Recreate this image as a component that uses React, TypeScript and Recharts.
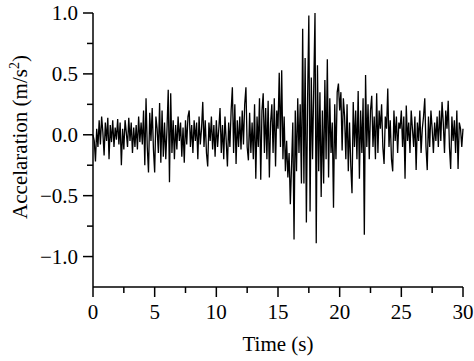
import { Line, LineChart, XAxis, YAxis } from 'recharts';

// sampled every 0.1 s
const SAMPLE_STEP = 0.1;

const accel0to5 = [
	0.0, -0.05, -0.22, 0.05, -0.1, 0.12, -0.08, 0.15, 0.02, -0.17,
	0.1, -0.05, 0.14, -0.2, 0.08, -0.06, 0.12, -0.1, 0.06, -0.04,
	0.13, -0.08, 0.1, -0.25, 0.05, -0.12, 0.12, 0.02, -0.1, 0.14,
	-0.05, 0.1, -0.15, 0.06, -0.1, 0.08, -0.12, 0.15, -0.06, 0.1,
	-0.08, 0.2, -0.25, 0.3, -0.1, -0.31, 0.18, -0.05, 0.22, -0.12,
];
const accel5to10 = [
	-0.31, 0.15, 0.05, -0.15, 0.26, -0.23, 0.2, -0.18, 0.1, -0.2,
	0.05, 0.37, -0.39, 0.34, -0.15, 0.12, -0.2, 0.08, -0.12, 0.15,
	-0.05, 0.1, -0.18, 0.06, -0.23, 0.12, -0.08, 0.15, 0.2, -0.1,
	0.08, -0.15, 0.12, -0.05, 0.1, -0.2, 0.15, -0.08, 0.05, 0.27,
	-0.1, 0.12, -0.15, -0.26, 0.1, -0.05, 0.15, -0.12, 0.08, -0.18,
];
const accel10to15 = [
	0.12, -0.1, 0.05, 0.22, -0.15, 0.08, -0.2, 0.15, -0.05, -0.26,
	0.1, -0.1, 0.2, 0.39, -0.15, 0.25, -0.24, 0.12, -0.1, 0.15,
	-0.12, 0.2, -0.08, 0.25, 0.39, -0.1, -0.21, 0.18, -0.15, 0.1,
	-0.2, 0.25, -0.36, 0.15, -0.1, 0.3, -0.37, 0.2, 0.34, -0.15,
	0.22, -0.2, 0.28, -0.35, 0.1, 0.25, -0.15, 0.3, -0.26, 0.2,
];
const accel15to20 = [
	0.05, 0.51, -0.1, 0.53, -0.2, 0.15, -0.3, -0.05, -0.35, -0.15,
	-0.57, -0.25, 0.1, -0.86, 0.2, -0.3, 0.3, -0.15, 0.25, -0.4,
	0.87, -0.4, 0.63, -0.72, 0.3, 0.98, -0.63, 0.47, -0.2, 0.4,
	1.0, -0.89, 0.57, -0.3, 0.35, -0.51, 0.2, -0.4, 0.45, -0.2,
	0.62, -0.35, 0.3, -0.15, 0.1, -0.6, 0.25, -0.2, 0.35, 0.42,
];
const accel20to25 = [
	0.2, 0.35, -0.13, 0.3, 0.15, -0.2, 0.25, -0.3, 0.1, -0.25,
	-0.48, 0.27, -0.1, 0.2, -0.2, 0.36, -0.36, 0.2, -0.15, 0.3,
	-0.82, 0.49, -0.1, 0.25, -0.2, 0.2, 0.32, -0.1, 0.15, -0.2,
	0.34, -0.15, 0.2, 0.05, 0.25, -0.1, -0.24, 0.15, 0.05, 0.38,
	-0.1, 0.12, -0.2, -0.3, 0.2, -0.05, 0.15, -0.15, 0.1, 0.05,
];
const accel25to30 = [
	0.2, -0.1, 0.15, -0.36, 0.24, -0.05, 0.1, -0.15, 0.2, 0.05,
	-0.1, 0.15, -0.29, 0.1, -0.05, 0.2, -0.15, 0.05, 0.15, 0.3,
	-0.1, -0.29, 0.15, -0.1, 0.2, 0.05, -0.15, 0.1, -0.05, 0.15,
	-0.1, 0.2, -0.05, 0.27, 0.1, -0.15, 0.2, 0.05, 0.28, -0.1,
	-0.28, 0.15, -0.05, 0.12, -0.15, 0.2, -0.28, 0.1, 0.05, -0.1,
	0.05,
];

const X_TICKS = [0, 2.5, 5, 7.5, 10, 12.5, 15, 17.5, 20, 22.5, 25, 27.5, 30];
const Y_TICKS = [-1.0, -0.75, -0.5, -0.25, 0.0, 0.25, 0.5, 0.75, 1.0];

const accel = [
	...accel0to5,
	...accel5to10,
	...accel10to15,
	...accel15to20,
	...accel20to25,
	...accel25to30,
];
const data = accel.map((a, i) => ({ t: +(i * SAMPLE_STEP).toFixed(1), a }));

const TEXT_STYLE = { fontFamily: "'Liberation Serif', 'DejaVu Serif', serif", fontSize: 21, fill: '#000' };

const XTick = ({ x, y, payload }: any) => {
	const v = payload.value as number;
	const major = Math.abs(v % 5) < 1e-6;
	return (
		<g>
			<line x1={x} y1={y} x2={x} y2={y + (major ? 10 : 6)} stroke="#000" strokeWidth={1.5} />
			{major && (
				<text x={x} y={y + 32} textAnchor="middle" style={TEXT_STYLE}>
					{v}
				</text>
			)}
		</g>
	);
};

const YTick = ({ x, y, payload }: any) => {
	const v = payload.value as number;
	const major = Math.abs(v * 2 - Math.round(v * 2)) < 1e-6;
	const label = v < 0 ? `\u2212${Math.abs(v).toFixed(1)}` : v.toFixed(1);
	return (
		<g>
			<line x1={x - (major ? 10 : 6)} y1={y} x2={x} y2={y} stroke="#000" strokeWidth={1.5} />
			{major && (
				<text x={x - 15} y={y + 7} textAnchor="end" style={TEXT_STYLE}>
					{label}
				</text>
			)}
		</g>
	);
};

export default function App() {
	return (
		<div style={{ position: 'absolute', left: 0, top: 0, width: 474, height: 361, background: '#fff' }}>
			<LineChart width={474} height={361} data={data} margin={{ top: 13, right: 11, bottom: 0, left: 0 }}>
				<XAxis
					type="number"
					dataKey="t"
					domain={[0, 30]}
					ticks={X_TICKS}
					interval={0}
					height={74}
					tickSize={0}
					tickMargin={0}
					tickLine={false}
					axisLine={{ stroke: '#000', strokeWidth: 1.5 }}
					tick={<XTick />}
				/>
				<YAxis
					type="number"
					domain={[-1.25, 1.0]}
					ticks={Y_TICKS}
					interval={0}
					width={93}
					tickSize={0}
					tickMargin={0}
					tickLine={false}
					axisLine={{ stroke: '#000', strokeWidth: 1.5 }}
					tick={<YTick />}
					allowDataOverflow
				/>
				<Line
					type="linear"
					dataKey="a"
					stroke="#000"
					strokeWidth={1.3}
					dot={false}
					isAnimationActive={false}
				/>
				<text x={278} y={351} textAnchor="middle" style={TEXT_STYLE}>
					Time (s)
				</text>
				<text x={27} y={137} textAnchor="middle" style={TEXT_STYLE} transform="rotate(-90, 27, 137)">
					Accelaration (m/s
					<tspan dy={-8} style={{ fontSize: 14 }}>2</tspan>
					<tspan dy={8}>)</tspan>
				</text>
			</LineChart>
		</div>
	);
}
